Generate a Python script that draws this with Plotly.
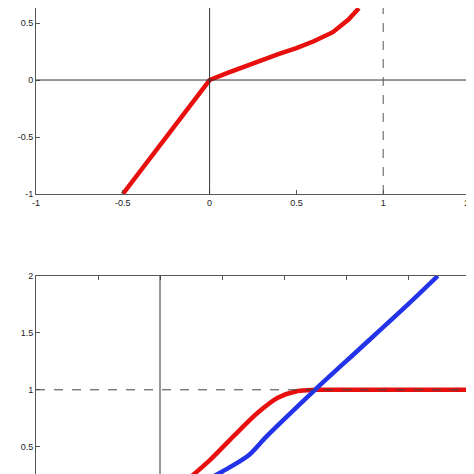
import plotly.graph_objects as go

top_x = [-0.5, 0.0, 0.1, 0.25, 0.4, 0.5, 0.6, 0.71, 0.8, 0.86]
top_y = [-1.0, 0.0, 0.06, 0.15, 0.23, 0.28, 0.34, 0.42, 0.53, 0.63]

red_x = [0.2, 0.4, 0.6, 0.79, 0.95, 1.11, 1.25, 1.6, 2.0, 2.5]
red_y = [0.19, 0.38, 0.6, 0.80, 0.93, 0.99, 1.0, 1.0, 1.0, 1.0]
blue_x = [0.35, 0.5, 0.71, 0.85, 1.0, 1.25, 1.6, 2.0, 2.24]
blue_y = [0.19, 0.28, 0.42, 0.58, 0.74, 1.0, 1.35, 1.75, 2.0]

fig = go.Figure()
fig.add_trace(go.Scatter(x=top_x, y=top_y, mode="lines", line=dict(color="#e8100f", width=4.5, shape="linear"), xaxis="x", yaxis="y"))
fig.add_trace(go.Scatter(x=red_x, y=red_y, mode="lines", line=dict(color="#e8100f", width=4.5, shape="spline", smoothing=0.8), xaxis="x2", yaxis="y2"))
fig.add_trace(go.Scatter(x=blue_x, y=blue_y, mode="lines", line=dict(color="#2233e8", width=4.5, shape="spline", smoothing=0.8), xaxis="x2", yaxis="y2"))

ax = dict(showgrid=False, zeroline=False, showline=True, linecolor="#555", linewidth=1,
          ticks="inside", ticklen=4, tickcolor="#555", automargin=False)
shapes = [
    dict(type="line", xref="x", yref="y", x0=0, x1=0, y0=-1, y1=0.632, line=dict(color="#333", width=1)),
    dict(type="line", xref="x", yref="y", x0=-1, x1=1.5, y0=0, y1=0, line=dict(color="#333", width=1)),
    dict(type="line", xref="x", yref="y", x0=1, x1=1, y0=-1, y1=0.632, line=dict(color="#555", width=1, dash="dash")),
    dict(type="line", xref="x2", yref="y2", x0=0, x1=0, y0=0.19, y1=2, line=dict(color="#333", width=1)),
    dict(type="line", xref="x2", yref="y2", x0=-1, x1=2.5, y0=1, y1=1, line=dict(color="#444", width=1, dash="dash")),
]
fig.update_layout(
    width=474, height=474, showlegend=False,
    margin=dict(l=28, r=12, t=0, b=0, autoexpand=False),
    paper_bgcolor="white", plot_bgcolor="white",
    font=dict(family="Liberation Sans", size=9, color="#222"),
    xaxis=dict(ax, range=[-1, 1.5], tickvals=[-1, -0.5, 0, 0.5, 1, 1.5], ticktext=["-1", "-0.5", "0", "0.5", "1", "1.5"], anchor="y"),
    yaxis=dict(ax, range=[-1, 0.632], domain=[0.6076, 1], tickvals=[-1, -0.5, 0, 0.5], ticktext=["-1", "-0.5", "0", "0.5"], mirror="ticks", anchor="x"),
    xaxis2=dict(ax, range=[-1, 2.5], dtick=0.5, showticklabels=False, side="top", anchor="y2"),
    yaxis2=dict(ax, range=[0.19, 2], domain=[0, 0.4346], tickvals=[0.5, 1, 1.5, 2], ticktext=["0.5", "1", "1.5", "2"], mirror="ticks", anchor="x2"),
    shapes=shapes,
)
fig.write_html("out.html")
